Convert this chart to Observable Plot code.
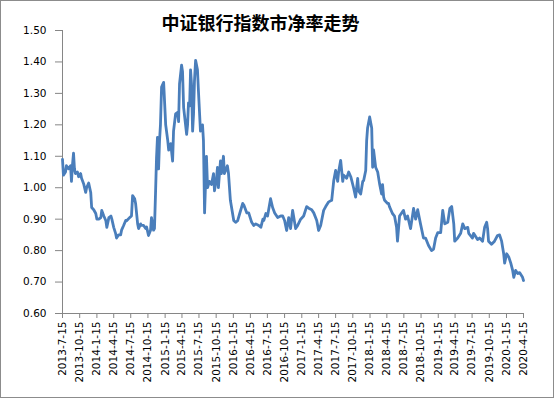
<!DOCTYPE html>
<html><head><meta charset="utf-8">
<script src="https://cdn.jsdelivr.net/npm/d3@7"></script>
<script src="https://cdn.jsdelivr.net/npm/@observablehq/plot@0.6"></script>
<style>
body{margin:0;background:#fff;}
#wrap{position:relative;width:555px;height:398px;overflow:hidden;}
#frame{position:absolute;left:0;top:0;width:554px;height:398px;border:1px solid #8c8c8c;box-sizing:border-box;pointer-events:none}
#title{position:absolute;left:0;width:521px;top:9px;text-align:center;font:bold 18px "Noto Sans CJK SC";color:#000;}
#chart{position:absolute;left:0;top:0;}
</style></head>
<body>
<div id="wrap"><div id="chart"></div><div id="title">中证银行指数市净率走势</div><div id="frame"></div></div>
<script>
const title = "中证银行指数市净率走势";
const tickLabels = ["2013-7-15","2013-10-15","2014-1-15","2014-4-15","2014-7-15","2014-10-15","2015-1-15","2015-4-15","2015-7-15","2015-10-15","2016-1-15","2016-4-15","2016-7-15","2016-10-15","2017-1-15","2017-4-15","2017-7-15","2017-10-15","2018-1-15","2018-4-15","2018-7-15","2018-10-15","2019-1-15","2019-4-15","2019-7-15","2019-10-15","2020-1-15","2020-4-15"];
const yTicks = [0.6,0.7,0.8,0.9,1.0,1.1,1.2,1.3,1.4,1.5];
const dates = ["2013-07-15","2013-07-20","2013-07-31","2013-08-05","2013-08-16","2013-08-27","2013-09-01","2013-09-06","2013-09-12","2013-09-17","2013-09-22","2013-10-03","2013-10-09","2013-10-20","2013-10-25","2013-11-05","2013-11-16","2013-11-21","2013-12-02","2013-12-13","2013-12-18","2013-12-29",
"2014-01-09","2014-01-15","2014-01-25","2014-02-05","2014-02-10","2014-02-21","2014-03-04","2014-03-09","2014-03-20","2014-03-31","2014-04-05","2014-04-15","2014-04-25","2014-04-30","2014-05-11","2014-05-22","2014-05-27","2014-06-07","2014-06-18","2014-06-23","2014-07-09","2014-07-19","2014-07-25","2014-08-05","2014-08-10","2014-08-21","2014-08-26","2014-09-06","2014-09-11","2014-09-22","2014-10-03","2014-10-08","2014-10-18","2014-10-29","2014-11-03","2014-11-14","2014-11-19","2014-11-25","2014-11-30","2014-12-05","2014-12-11","2014-12-16","2014-12-21","2014-12-27",
"2015-01-07","2015-01-18","2015-01-29","2015-02-03","2015-02-14","2015-02-24","2015-03-01","2015-03-12","2015-03-23","2015-03-28","2015-04-02","2015-04-13","2015-04-18","2015-04-24","2015-05-10","2015-05-15","2015-05-20","2015-05-26","2015-05-31","2015-06-05","2015-06-11","2015-06-16","2015-06-21","2015-06-27","2015-07-07","2015-07-12","2015-07-23","2015-08-03","2015-08-08","2015-08-14","2015-08-24","2015-08-30","2015-09-09","2015-09-20","2015-10-01","2015-10-06","2015-10-17","2015-10-22","2015-10-27","2015-11-07","2015-11-12","2015-11-23","2015-11-28","2015-12-14","2015-12-20","2015-12-30",
"2016-01-17","2016-01-27","2016-02-07","2016-02-18","2016-03-05","2016-03-11","2016-03-27","2016-04-06","2016-04-22","2016-05-03","2016-05-14","2016-05-30","2016-06-10","2016-06-21","2016-06-26","2016-07-07","2016-07-16","2016-08-01","2016-08-12","2016-08-23","2016-09-08","2016-09-24","2016-10-05","2016-10-15","2016-10-26","2016-11-06","2016-11-16","2016-11-27","2016-12-02","2016-12-13","2016-12-24",
"2017-01-09","2017-01-25","2017-02-10","2017-02-21","2017-03-09","2017-03-20","2017-04-05","2017-04-15","2017-04-26","2017-05-12","2017-05-23","2017-06-08","2017-06-24","2017-07-05","2017-07-15","2017-07-26","2017-07-31","2017-08-11","2017-08-22","2017-08-27","2017-09-12","2017-09-23","2017-10-04","2017-10-19","2017-10-30","2017-11-10","2017-11-15","2017-11-26","2017-12-07","2017-12-12","2017-12-23","2017-12-28",
"2018-01-02","2018-01-13","2018-01-24","2018-01-29","2018-02-03","2018-02-14","2018-02-25","2018-03-07","2018-03-18","2018-03-23","2018-03-29","2018-04-03","2018-04-19","2018-04-24","2018-04-29","2018-05-15","2018-05-26","2018-06-06","2018-06-11","2018-06-22","2018-07-13","2018-07-24","2018-08-04","2018-08-20","2018-09-05","2018-09-16","2018-09-27","2018-10-12","2018-10-28","2018-11-08","2018-11-24","2018-12-10","2018-12-21",
"2019-01-01","2019-01-12","2019-01-28","2019-02-08","2019-02-19","2019-03-07","2019-03-18","2019-03-28","2019-04-08","2019-04-13","2019-04-29","2019-05-15","2019-05-26","2019-06-06","2019-06-22","2019-06-27","2019-07-17","2019-07-23","2019-08-13","2019-08-24","2019-09-09","2019-09-20","2019-10-01","2019-10-06","2019-10-11","2019-10-27","2019-11-12","2019-11-28","2019-12-09","2019-12-20","2019-12-31",
"2020-01-05","2020-01-16","2020-01-27","2020-02-07","2020-02-17","2020-02-23","2020-03-04","2020-03-15","2020-03-25","2020-04-10","2020-04-15"];
const values = [1.09,1.04,1.05,1.07,1.06,1.07,1.02,1.07,1.11,1.06,1.045,1.05,1.035,1.045,1.03,1.013,0.985,1.0,1.015,0.985,0.937,0.93,
0.918,0.90,0.90,0.905,0.928,0.91,0.895,0.874,0.905,0.91,0.90,0.874,0.855,0.84,0.85,0.85,0.865,0.88,0.896,0.895,0.905,0.91,0.975,0.965,0.95,0.885,0.87,0.885,0.88,0.88,0.87,0.875,0.848,0.865,0.905,0.865,0.87,0.99,1.096,1.16,1.06,1.15,1.2,1.32,
1.335,1.20,1.15,1.12,1.14,1.085,1.18,1.235,1.24,1.21,1.33,1.39,1.37,1.255,1.17,1.20,1.27,1.26,1.375,1.33,1.18,1.235,1.34,1.405,1.375,1.31,1.18,1.20,1.15,0.92,1.10,1.00,1.02,1.01,1.045,0.99,1.03,1.065,1.00,1.085,1.045,1.10,1.045,1.07,1.045,0.96,
0.896,0.89,0.895,0.918,0.95,0.945,0.92,0.92,0.89,0.88,0.885,0.88,0.874,0.90,0.896,0.918,0.91,0.965,0.937,0.92,0.905,0.91,0.91,0.896,0.864,0.905,0.87,0.928,0.91,0.87,0.88,
0.90,0.91,0.94,0.935,0.93,0.92,0.896,0.864,0.88,0.928,0.94,0.955,0.96,1.023,1.055,1.02,1.05,1.087,1.02,1.04,1.03,1.05,1.035,1.00,0.97,1.03,0.99,0.98,1.02,1.023,1.055,1.15,
1.19,1.225,1.19,1.065,1.12,1.065,1.05,1.013,0.98,1.01,0.97,0.96,0.95,0.95,0.94,0.918,0.91,0.874,0.83,0.91,0.928,0.90,0.91,0.87,0.934,0.90,0.93,0.885,0.84,0.84,0.816,0.80,0.805,
0.84,0.857,0.857,0.928,0.885,0.89,0.934,0.94,0.885,0.83,0.84,0.855,0.885,0.87,0.874,0.855,0.84,0.855,0.835,0.84,0.83,0.874,0.89,0.87,0.83,0.82,0.83,0.848,0.85,0.83,0.79,
0.76,0.79,0.78,0.76,0.737,0.715,0.737,0.727,0.73,0.715,0.705];

const toDate = s => { const [y,m,d] = s.split("-").map(Number); return new Date(Date.UTC(y, m-1, d)); };
const data = dates.map((d,i) => ({date: toDate(d), value: values[i]}));
const tickDates = tickLabels.map(toDate);
const axisColor = "#868686";

const chart = Plot.plot({
  width: 555, height: 398,
  marginLeft: 62, marginRight: 32, marginTop: 30, marginBottom: 85,
  style: {fontFamily: "DejaVu Sans", fontSize: "10.5px", color: "#000", background: "transparent"},
  x: {type: "utc", domain: [tickDates[0], tickDates[tickDates.length-1]]},
  y: {domain: [0.6, 1.5]},
  marks: [
    Plot.axisY({ticks: yTicks, tickFormat: d3.format(".2f"), tickSize: 7, tickPadding: 9, stroke: axisColor, label: null}),
    Plot.axisX({ticks: tickDates, tickFormat: d3.utcFormat("%Y-%-m-%-d"), tickRotate: -90, tickSize: 5, tickPadding: 3, stroke: axisColor, label: null}),
    Plot.ruleY([0.6], {stroke: axisColor}),
    Plot.ruleX([tickDates[0]], {stroke: axisColor}),
    Plot.lineY(data, {x: "date", y: "value", stroke: "#4a7ebb", strokeWidth: 2.8, strokeLinejoin: "round", curve: "linear"})
  ]
});
document.getElementById("chart").appendChild(chart);
</script>
</body></html>
